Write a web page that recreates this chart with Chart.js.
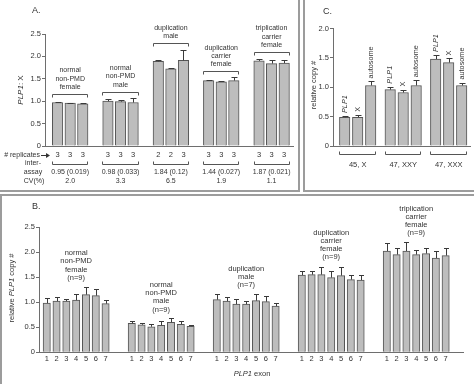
<!DOCTYPE html>
<html>
<head>
<meta charset="utf-8">
<script src="https://cdn.jsdelivr.net/npm/chart.js@4.4.0/dist/chart.umd.min.js"></script>
<style>
  body { margin: 0; background: #fff; }
  #fig { position: relative; width: 474px; height: 384px; overflow: hidden; background: #fff; }
  canvas, .frame { position: absolute; }
  #cA { left: 0; top: 0; }
  #cC { left: 305px; top: 0; }
  #cB { left: 0; top: 196px; }
  .frame { box-sizing: border-box; border: 0 solid #9c9c9c; }
  #fA { left: -2px; top: -2px; width: 302px; height: 194px; border-width: 0 2px 2px 0; }
  #fC { left: 303px; top: -2px; width: 175px; height: 194px; border-width: 0 0 2px 2px; }
  #fB { left: 0; top: 194px; width: 478px; height: 194px; border-width: 2px 0 0 2px; }
</style>
</head>
<body>
<div id="fig">
  <div class="frame" id="fA"></div>
  <div class="frame" id="fC"></div>
  <div class="frame" id="fB"></div>
  <canvas id="cA" width="299" height="191"></canvas>
  <canvas id="cC" width="169" height="191"></canvas>
  <canvas id="cB" width="474" height="188"></canvas>
</div>
<script>
// ---- panel A: PLP1:X ratio, three assays per sample group ----
const groupsA = [
  ['normal', 'non-PMD', 'female'],
  ['normal', 'non-PMD', 'male'],
  ['duplication', 'male'],
  ['duplication', 'carrier', 'female'],
  ['triplication', 'carrier', 'female']
];
const ratioA = [0.97, 0.96, 0.94, 1.00, 0.99, 0.97, 1.89, 1.72, 1.91, 1.46, 1.43, 1.46, 1.90, 1.84, 1.85];
const ratioErrA = [0.01, 0.01, 0.03, 0.05, 0.03, 0.10, 0.03, 0.03, 0.23, 0.01, 0.02, 0.07, 0.05, 0.07, 0.07];
const replicatesA = ['3', '3', '3', '3', '3', '3', '2', '2', '3', '3', '3', '3', '3', '3', '3'];
const interAssayA = ['0.95 (0.019)', '0.98 (0.033)', '1.84 (0.12)', '1.44 (0.027)', '1.87 (0.021)'];
const cvA = ['2.0', '3.3', '6.5', '1.9', '1.1'];
const yTicksA = [0, 0.5, 1, 1.5, 2, 2.5];
const yLabelsA = ['0', '0.5', '1.0', '1.5', '2.0', '2.5'];

// ---- panel B: relative PLP1 copy number per exon ----
const groupsB = [
  ['normal', 'non-PMD', 'female', '(n=9)'],
  ['normal', 'non-PMD', 'male', '(n=9)'],
  ['duplication', 'male', '(n=7)'],
  ['duplication', 'carrier', 'female', '(n=9)'],
  ['triplication', 'carrier', 'female', '(n=9)']
];
const exons = ['1', '2', '3', '4', '5', '6', '7'];
const normalFemaleB = [0.98, 1.02, 1.02, 1.04, 1.15, 1.13, 0.97];
const normalFemaleErrB = [0.11, 0.09, 0.05, 0.13, 0.16, 0.14, 0.08];
const normalMaleB = [0.58, 0.55, 0.51, 0.54, 0.60, 0.56, 0.52];
const normalMaleErrB = [0.04, 0.04, 0.05, 0.08, 0.09, 0.06, 0.02];
const dupMaleB = [1.05, 1.02, 0.96, 0.96, 1.03, 1.01, 0.92];
const dupMaleErrB = [0.11, 0.08, 0.11, 0.07, 0.14, 0.11, 0.07];
const dupCarrierB = [1.54, 1.55, 1.55, 1.49, 1.53, 1.45, 1.44];
const dupCarrierErrB = [0.08, 0.07, 0.16, 0.14, 0.17, 0.10, 0.11];
const tripCarrierB = [2.02, 1.95, 2.02, 1.95, 1.97, 1.88, 1.93];
const tripCarrierErrB = [0.16, 0.14, 0.18, 0.09, 0.12, 0.14, 0.16];
const yTicksB = [0, 0.5, 1, 1.5, 2, 2.5];
const yLabelsB = ['0', '0.5', '1.0', '1.5', '2.0', '2.5'];

// ---- panel C: sex chromosome aneuploidies ----
const karyotypes = ['45, X', '47, XXY', '47, XXX'];
const targetsC = ['PLP1', 'X', 'autosome'];
const copyC = [0.49, 0.49, 1.03, 0.96, 0.91, 1.03, 1.48, 1.42, 1.03];
const copyErrC = [0.02, 0.04, 0.07, 0.05, 0.05, 0.09, 0.07, 0.07, 0.05];
const yTicksC = [0, 0.5, 1, 1.5, 2];
const yLabelsC = ['0', '0.5', '1.0', '1.5', '2.0'];

const FONT = '"Liberation Sans", Arial, sans-serif';
const INK = '#333';
const AXIS = '#6e6e6e';
const FILL = '#bdbdbd';
const EDGE = '#555';

function font(size, italic) {
  return (italic ? 'italic ' : '') + size + 'px ' + FONT;
}

// text made of parts, some italic; centred on x,y, optional rotation
function richText(ctx, parts, x, y, size, angle, align) {
  ctx.save();
  ctx.translate(x, y);
  if (angle) ctx.rotate(angle);
  let total = 0;
  const widths = parts.map(p => {
    ctx.font = font(size, p.i);
    const w = ctx.measureText(p.t).width;
    total += w;
    return w;
  });
  let cx = align === 'left' ? 0 : -total / 2;
  ctx.fillStyle = INK;
  ctx.textBaseline = 'middle';
  ctx.textAlign = 'left';
  parts.forEach((p, k) => {
    ctx.font = font(size, p.i);
    ctx.fillText(p.t, cx, 0);
    cx += widths[k];
  });
  ctx.restore();
}

function text(ctx, str, x, y, size, align) {
  ctx.save();
  ctx.font = font(size);
  ctx.fillStyle = INK;
  ctx.textAlign = align || 'center';
  ctx.textBaseline = 'middle';
  ctx.fillText(str, x, y);
  ctx.restore();
}

// horizontal bracket with end ticks (dir 1 = down, -1 = up)
function bracket(ctx, x1, x2, y, dir) {
  ctx.save();
  ctx.strokeStyle = '#555';
  ctx.lineWidth = 1;
  y = Math.round(y) + 0.5;
  x1 = Math.round(x1) + 0.5;
  x2 = Math.round(x2) - 0.5;
  ctx.beginPath();
  ctx.moveTo(x1, y + 3 * dir);
  ctx.lineTo(x1, y);
  ctx.lineTo(x2, y);
  ctx.lineTo(x2, y + 3 * dir);
  ctx.stroke();
  ctx.restore();
}

function errorBars(values, errors, cap) {
  return {
    id: 'errorBars',
    afterDatasetsDraw(chart) {
      const ctx = chart.ctx;
      const y = chart.scales.y;
      const bars = chart.getDatasetMeta(0).data;
      ctx.save();
      ctx.strokeStyle = '#3a3a3a';
      ctx.lineWidth = 1;
      bars.forEach((bar, i) => {
        const top = Math.round(y.getPixelForValue(values[i] + errors[i])) + 0.5;
        const x = Math.round(bar.x) + 0.5;
        ctx.beginPath();
        ctx.moveTo(x, bar.y);
        ctx.lineTo(x, top);
        ctx.moveTo(x - cap, top);
        ctx.lineTo(x + cap, top);
        ctx.stroke();
      });
      ctx.restore();
    }
  };
}

// fixed-size axes: no offset, no extra padding from overhanging labels
function xAxis(min, max, positions, labels, pad, height) {
  return {
    type: 'linear',
    min: min,
    max: max,
    offset: false,
    afterBuildTicks: a => { a.ticks = positions.map(v => ({ value: v })); },
    afterFit: a => { a.height = height; a.paddingLeft = 0; a.paddingRight = 0; },
    ticks: {
      autoSkip: false, maxRotation: 0, padding: pad, color: INK,
      font: { family: FONT, size: 7.5 },
      callback: (v, i) => labels[i]
    },
    grid: { display: false, drawTicks: false, offset: false },
    border: { color: AXIS, width: 1 }
  };
}

function yAxis(max, ticks, labels, width) {
  return {
    min: 0,
    max: max,
    afterBuildTicks: a => { a.ticks = ticks.map(v => ({ value: v })); },
    afterFit: a => { a.width = width; a.paddingTop = 0; a.paddingBottom = 0; },
    ticks: {
      padding: 1, color: INK,
      font: { family: FONT, size: 7.5 },
      callback: (v, i) => labels[i]
    },
    grid: { drawOnChartArea: false, drawTicks: true, tickLength: 3, color: AXIS },
    border: { color: AXIS, width: 1 }
  };
}

function barSet(positions, values, thickness) {
  return {
    data: positions.map((p, i) => ({ x: p, y: values[i] })),
    backgroundColor: FILL,
    borderColor: EDGE,
    borderWidth: 1,
    barThickness: thickness
  };
}

const baseOptions = {
  responsive: false,
  animation: false,
  plugins: { legend: { display: false }, tooltip: { enabled: false } }
};

// ---------------- panel A ----------------
const posA = [];
groupsA.forEach((g, gi) => { for (let j = 0; j < 3; j++) posA.push(gi * 4 + j); });

new Chart(document.getElementById('cA'), {
  type: 'bar',
  data: { datasets: [barSet(posA, ratioA, 10.5)] },
  options: Object.assign({}, baseOptions, {
    layout: { padding: { left: 0, top: 34, right: 6, bottom: 0 } },
    scales: {
      x: xAxis(-1, 18.7, posA, replicatesA, 4.5, 45),
      y: yAxis(2.5, yTicksA, yLabelsA, 45)
    }
  }),
  plugins: [errorBars(ratioA, ratioErrA, 3), {
    id: 'notesA',
    afterDraw(chart) {
      const ctx = chart.ctx;
      const x = chart.scales.x, y = chart.scales.y;
      const bracketAt = [1.16, 1.21, 2.29, 1.67, 2.10];
      groupsA.forEach((lines, gi) => {
        const left = x.getPixelForValue(gi * 4) - 5.5;
        const right = x.getPixelForValue(gi * 4 + 2) + 5.5;
        const cx = x.getPixelForValue(gi * 4 + 1);
        const by = y.getPixelForValue(bracketAt[gi]);
        bracket(ctx, left, right, by, 1);
        lines.forEach((t, k) => text(ctx, t, cx, by - 7 - (lines.length - 1 - k) * 8.3, 7));
        bracket(ctx, left, right, 164, -1);
        text(ctx, interAssayA[gi], cx, 172.5, 7);
        text(ctx, cvA[gi], cx, 181.5, 7);
      });
      text(ctx, '# replicates', 40, 155, 7, 'right');
      ctx.save();
      ctx.strokeStyle = INK; ctx.fillStyle = INK; ctx.lineWidth = 1;
      ctx.beginPath(); ctx.moveTo(41, 155.5); ctx.lineTo(47, 155.5); ctx.stroke();
      ctx.beginPath(); ctx.moveTo(50, 155.5); ctx.lineTo(46, 153); ctx.lineTo(46, 158); ctx.closePath(); ctx.fill();
      ctx.restore();
      text(ctx, 'inter-', 33, 163.5, 7);
      text(ctx, 'assay', 33, 172.5, 7);
      text(ctx, 'CV(%)', 34, 181.5, 7);
      text(ctx, 'A.', 32, 11, 9, 'left');
      richText(ctx, [{ t: 'PLP1', i: true }, { t: ': X' }], 21, 90, 8, -Math.PI / 2);
    }
  }]
});

// ---------------- panel C ----------------
const posC = [];
karyotypes.forEach((k, gi) => { for (let j = 0; j < 3; j++) posC.push(gi * 3.5 + j); });
const centersC = karyotypes.map((k, gi) => gi * 3.5 + 1);

new Chart(document.getElementById('cC'), {
  type: 'bar',
  data: { datasets: [barSet(posC, copyC, 10.5)] },
  options: Object.assign({}, baseOptions, {
    layout: { padding: { left: 0, top: 28.5, right: 4, bottom: 0 } },
    scales: {
      x: xAxis(-0.9, 9.64, centersC, karyotypes, 14.5, 45),
      y: yAxis(2, yTicksC, yLabelsC, 28)
    }
  }),
  plugins: [errorBars(copyC, copyErrC, 3), {
    id: 'notesC',
    afterDraw(chart) {
      const ctx = chart.ctx;
      const x = chart.scales.x, y = chart.scales.y;
      karyotypes.forEach((k, gi) => {
        const left = x.getPixelForValue(gi * 3.5) - 5.3;
        const right = x.getPixelForValue(gi * 3.5 + 2) + 5.3;
        bracket(ctx, left, right, 154, -1);
      });
      posC.forEach((p, i) => {
        const name = targetsC[i % 3];
        const top = y.getPixelForValue(copyC[i] + copyErrC[i]) - 3;
        richText(ctx, [{ t: name, i: name === 'PLP1' }], x.getPixelForValue(p), top, 7.3, -Math.PI / 2, 'left');
      });
      text(ctx, 'C.', 18, 12, 9, 'left');
      richText(ctx, [{ t: 'relative copy #' }], 8.5, 85, 7.5, -Math.PI / 2);
    }
  }]
});

// ---------------- panel B ----------------
const valuesB = [].concat(normalFemaleB, normalMaleB, dupMaleB, dupCarrierB, tripCarrierB);
const errorsB = [].concat(normalFemaleErrB, normalMaleErrB, dupMaleErrB, dupCarrierErrB, tripCarrierErrB);
const posB = [];
const labelsB = [];
groupsB.forEach((g, gi) => {
  exons.forEach((e, j) => { posB.push(gi * 8.67 + j); labelsB.push(e); });
});

new Chart(document.getElementById('cB'), {
  type: 'bar',
  data: { datasets: [barSet(posB, valuesB, 7.3)] },
  options: Object.assign({}, baseOptions, {
    layout: { padding: { left: 0, top: 31, right: 11, bottom: 0 } },
    scales: {
      x: xAxis(-0.79, 42.45, posB, labelsB, 2.5, 31.7),
      y: yAxis(2.5, yTicksB, yLabelsB, 39)
    }
  }),
  plugins: [errorBars(valuesB, errorsB, 2.5), {
    id: 'notesB',
    afterDraw(chart) {
      const ctx = chart.ctx;
      const x = chart.scales.x, y = chart.scales.y;
      const firstLineAt = [1.98, 1.35, 1.67, 2.39, 2.87];
      groupsB.forEach((lines, gi) => {
        const cx = x.getPixelForValue(gi * 8.67 + 3);
        const ty = y.getPixelForValue(firstLineAt[gi]);
        lines.forEach((t, k) => text(ctx, t, cx, ty + k * 8.3, 7.5));
      });
      text(ctx, 'B.', 32, 11, 9, 'left');
      richText(ctx, [{ t: 'relative ' }, { t: 'PLP1', i: true }, { t: ' copy #' }], 12, 92, 7.5, -Math.PI / 2);
      richText(ctx, [{ t: 'PLP1', i: true }, { t: ' exon' }], 252, 178, 7.5);
    }
  }]
});
</script>
</body>
</html>
